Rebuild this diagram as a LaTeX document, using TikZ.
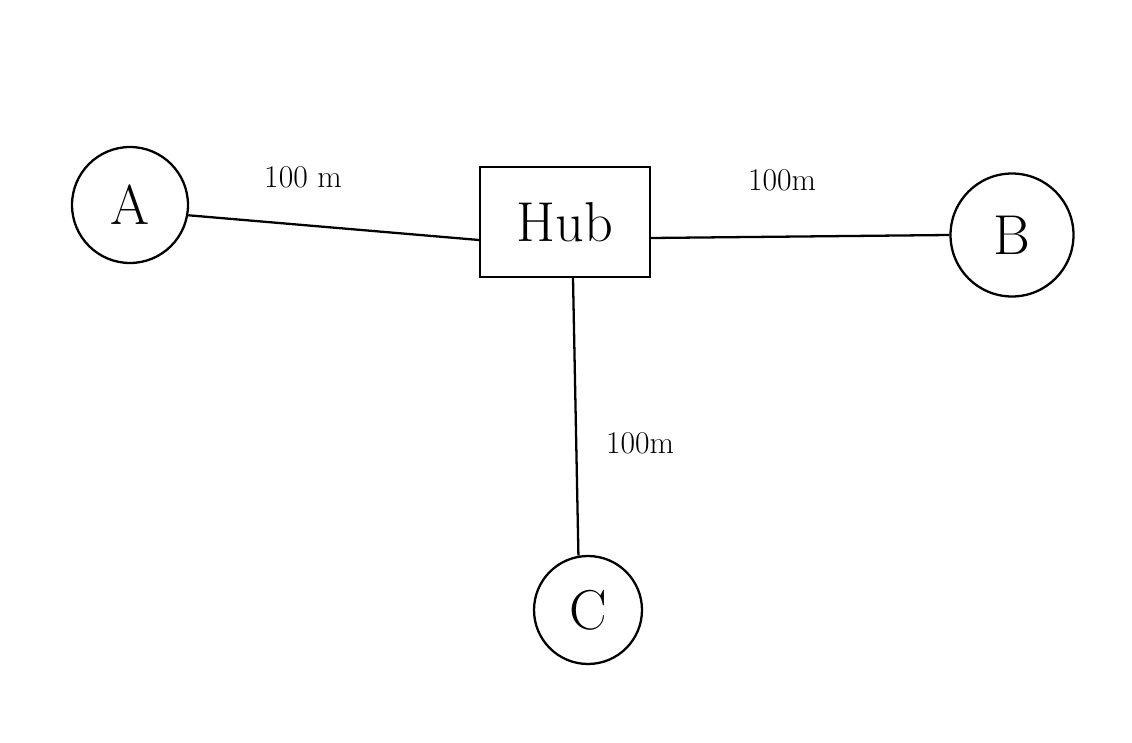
\documentclass[tikz,border=0pt]{standalone}
\usepackage{tikz}
\usetikzlibrary{positioning}
\tikzset{station/.style = {draw, circle, line width = 1.3pt, inner sep = 0, font = \fontsize{32}{36}\selectfont}}
\tikzset{hubbox/.style = {draw, rectangle, line width = 1.3pt, minimum width = 3.4cm, minimum height = 2.2cm, font = \fontsize{32}{36}\selectfont}}
\tikzset{link/.style = {line width = 1.3pt}}
\tikzset{dist/.style = {font = \fontsize{18}{20}\selectfont}}

\begin{document}
\begin{tikzpicture}[x=0.02cm, y=-0.02cm]
    \useasboundingbox (0, 0) rectangle (1132, 743);
    \node [hubbox] (hub) at (565, 222) {Hub};
    \node [station, minimum size = 2.32cm] (a) at (130, 205) {A};
    \node [station, minimum size = 2.46cm] (b) at (1012, 235) {B};
    \node [station, minimum size = 2.16cm] (c) at (588, 610) {C};
    \draw [link] (a.-10) -- ([yshift=-0.36cm]hub.west);
    \draw [link] ([yshift=-0.32cm]hub.east) -- (b.west);
    \draw [link] ([xshift=0.16cm]hub.south) -- (c.100);
    \node [dist] (lab_a) at (303, 177) {100 m};
    \node [dist] (lab_b) at (782, 180) {100m};
    \node [dist] (lab_c) at (640, 443) {100m};
  \end{tikzpicture}
\end{document}
